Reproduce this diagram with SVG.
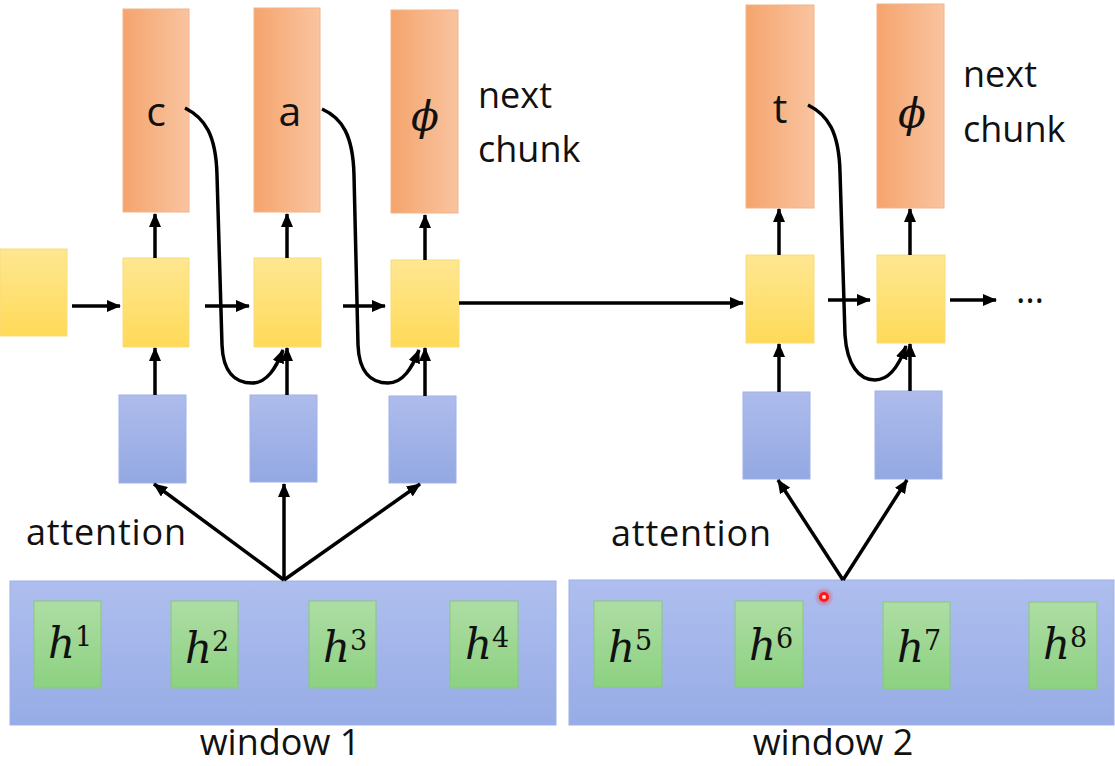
<svg xmlns="http://www.w3.org/2000/svg" width="1115" height="766" viewBox="0 0 1115 766">
<defs>
<linearGradient id="gOrange" x1="0" y1="0" x2="1" y2="0"><stop offset="0" stop-color="#F5A46D"/><stop offset="1" stop-color="#F9C4A0"/></linearGradient>
<linearGradient id="gYellow" x1="0" y1="0" x2="0" y2="1"><stop offset="0" stop-color="#FEE792"/><stop offset="1" stop-color="#FFDA58"/></linearGradient>
<linearGradient id="gBlue" x1="0" y1="0" x2="0" y2="1"><stop offset="0" stop-color="#AEBCEC"/><stop offset="1" stop-color="#93A8E2"/></linearGradient>
<linearGradient id="gWin" x1="0" y1="0" x2="0" y2="1"><stop offset="0" stop-color="#AEBEEE"/><stop offset="1" stop-color="#97ACE6"/></linearGradient>
<linearGradient id="gGreen" x1="0" y1="0" x2="0" y2="1"><stop offset="0" stop-color="#AEDDA4"/><stop offset="1" stop-color="#8CD181"/></linearGradient>
<marker id="ah" viewBox="0 0 14 12" refX="13" refY="6" markerWidth="14" markerHeight="12" markerUnits="userSpaceOnUse" orient="auto"><path d="M0,0 L14,6 L0,12 z" fill="#000"/></marker>
<radialGradient id="gGlow"><stop offset="0" stop-color="#FF3030" stop-opacity="0.8"/><stop offset="1" stop-color="#FF3030" stop-opacity="0"/></radialGradient>
</defs>
<style>
.or{fill:url(#gOrange);stroke:#F2B48A;stroke-width:1}
.ye{fill:url(#gYellow);stroke:#F8DC7A;stroke-width:1}
.bl{fill:url(#gBlue);stroke:#9FB2E6;stroke-width:1}
.win{fill:url(#gWin);stroke:#9DB0E8;stroke-width:1}
.gr{fill:url(#gGreen);stroke:#86C97C;stroke-width:1}
.lbl{font-family:"Open Sans","Liberation Sans",sans-serif;font-size:36px;fill:#111}
.sym{font-family:"Open Sans","Liberation Sans",sans-serif;font-size:41px;fill:#111;text-anchor:middle}
.phi{font-family:"DejaVu Serif","Liberation Serif",serif;font-style:italic;font-size:41px;fill:#111;text-anchor:middle}
.hv{font-family:"DejaVu Serif","Liberation Serif",serif;font-size:42px;fill:#111;text-anchor:middle}
.hv .sup{font-size:27px;font-style:normal}
.hv .it{font-style:italic}
.c{fill:none;stroke:#000;stroke-width:3.5;marker-end:url(#ah)}
</style>
<rect width="1115" height="766" fill="#FFFFFF"/>

<g id="window1"><rect class="win" x="10" y="581" width="546" height="144"/><text class="lbl" x="280" y="755" text-anchor="middle">window 1</text></g>
<g id="window2"><rect class="win" x="569" y="580" width="545" height="145"/><text class="lbl" x="833" y="755" text-anchor="middle">window 2</text></g>

<g id="h1"><rect class="gr" x="34" y="601" width="67" height="87"/><text class="hv" x="70" y="658"><tspan class="it">h</tspan><tspan class="sup" dy="-12">1</tspan></text></g>
<g id="h2"><rect class="gr" x="171" y="601" width="67" height="87"/><text class="hv" x="207" y="663"><tspan class="it">h</tspan><tspan class="sup" dy="-12">2</tspan></text></g>
<g id="h3"><rect class="gr" x="309" y="601" width="67" height="87"/><text class="hv" x="345" y="662"><tspan class="it">h</tspan><tspan class="sup" dy="-12">3</tspan></text></g>
<g id="h4"><rect class="gr" x="450" y="601" width="68" height="87"/><text class="hv" x="487" y="659"><tspan class="it">h</tspan><tspan class="sup" dy="-12">4</tspan></text></g>
<g id="h5"><rect class="gr" x="594" y="601" width="68" height="86"/><text class="hv" x="630" y="662"><tspan class="it">h</tspan><tspan class="sup" dy="-12">5</tspan></text></g>
<g id="h6"><rect class="gr" x="735" y="601" width="68" height="86"/><text class="hv" x="771" y="660"><tspan class="it">h</tspan><tspan class="sup" dy="-12">6</tspan></text></g>
<g id="h7"><rect class="gr" x="883" y="602" width="67" height="87"/><text class="hv" x="919" y="662"><tspan class="it">h</tspan><tspan class="sup" dy="-12">7</tspan></text></g>
<g id="h8"><rect class="gr" x="1029" y="602" width="68" height="87"/><text class="hv" x="1065" y="659"><tspan class="it">h</tspan><tspan class="sup" dy="-12">8</tspan></text></g>

<g id="att1"><text class="lbl" x="26" y="545" textLength="160">attention</text></g>
<g id="att2"><text class="lbl" x="611" y="546" textLength="160">attention</text></g>

<g id="ctx1"><rect class="bl" x="119" y="395" width="67" height="88"/></g>
<g id="ctx2"><rect class="bl" x="250" y="395" width="67" height="87"/></g>
<g id="ctx3"><rect class="bl" x="389" y="396" width="67" height="87"/></g>
<g id="ctx4"><rect class="bl" x="743" y="392" width="67" height="87"/></g>
<g id="ctx5"><rect class="bl" x="875" y="391" width="67" height="88"/></g>

<g id="s0"><rect class="ye" x="0" y="249" width="67" height="87"/></g>
<g id="s1"><rect class="ye" x="123" y="258" width="66" height="89"/></g>
<g id="s2"><rect class="ye" x="254" y="258" width="67" height="89"/></g>
<g id="s3"><rect class="ye" x="391" y="260" width="68" height="87"/></g>
<g id="s4"><rect class="ye" x="746" y="255" width="68" height="88"/></g>
<g id="s5"><rect class="ye" x="877" y="255" width="68" height="88"/></g>

<g id="o1"><rect class="or" x="123" y="9" width="66" height="203"/><text class="sym" x="156" y="126">c</text></g>
<g id="o2"><rect class="or" x="254" y="8" width="66" height="204"/><text class="sym" x="290" y="126">a</text></g>
<g id="o3"><rect class="or" x="391" y="10" width="67" height="203"/><text class="phi" x="425" y="130">ϕ</text></g>
<g id="o4"><rect class="or" x="746" y="5" width="68" height="203"/><text class="sym" x="780" y="123">t</text></g>
<g id="o5"><rect class="or" x="877" y="4" width="67" height="204"/><text class="phi" x="912" y="127">ϕ</text></g>

<g id="next1"><text class="lbl" x="478" y="108">next</text><text class="lbl" x="478" y="162">chunk</text></g>
<g id="next2"><text class="lbl" x="963" y="87">next</text><text class="lbl" x="963" y="142">chunk</text></g>
<g id="dots"><text class="lbl" x="1030" y="303" text-anchor="middle">…</text></g>

<g id="connectors">
<line class="c" x1="284" y1="580" x2="154" y2="484"/>
<line class="c" x1="284" y1="580" x2="284" y2="484"/>
<line class="c" x1="284" y1="580" x2="420" y2="484"/>
<line class="c" x1="843" y1="580" x2="778" y2="480"/>
<line class="c" x1="843" y1="580" x2="907" y2="480"/>

<line class="c" x1="155" y1="395" x2="155" y2="348"/>
<line class="c" x1="287" y1="395" x2="287" y2="348"/>
<line class="c" x1="425" y1="396" x2="425" y2="348"/>
<line class="c" x1="779" y1="392" x2="779" y2="344"/>
<line class="c" x1="910" y1="391" x2="910" y2="344"/>

<line class="c" x1="155" y1="258" x2="155" y2="214"/>
<line class="c" x1="287" y1="258" x2="287" y2="214"/>
<line class="c" x1="425" y1="260" x2="425" y2="215"/>
<line class="c" x1="779" y1="255" x2="779" y2="209"/>
<line class="c" x1="910" y1="255" x2="910" y2="209"/>

<line class="c" x1="72" y1="306" x2="120" y2="306"/>
<line class="c" x1="205" y1="306" x2="249" y2="306"/>
<line class="c" x1="343" y1="306" x2="385" y2="306"/>
<line class="c" x1="459" y1="303" x2="743" y2="303"/>
<line class="c" x1="828" y1="300" x2="870" y2="300"/>
<line class="c" x1="950" y1="300" x2="996" y2="300"/>

<path class="c" d="M185,108 C205,118 216,135 217,175 L222,345 C223,372 235,383 252,383 C267,383 276,368 283,350"/>
<path class="c" d="M322,109 C342,118 353,135 354,175 L358,345 C359,372 371,383 388,383 C403,383 412,368 419,350"/>
<path class="c" d="M808,105 C828,115 839,132 840,172 L845,335 C847,365 859,380 875,380 C891,380 900,363 906,346"/>
</g>

<g id="pointer"><circle cx="824" cy="597" r="10" fill="url(#gGlow)"/><circle cx="824" cy="597" r="5" fill="#FF1A1A"/><circle cx="824" cy="597" r="2" fill="#FFE0E0"/></g>
</svg>
